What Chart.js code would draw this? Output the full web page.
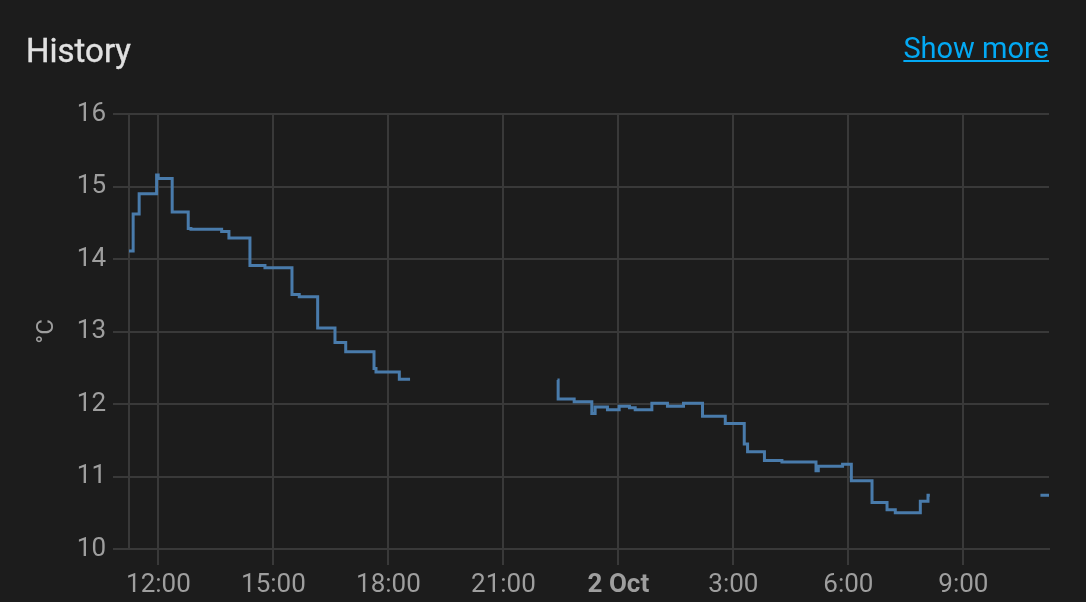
<!DOCTYPE html>
<html><head><meta charset="utf-8">
<script src="https://cdn.jsdelivr.net/npm/chart.js@4"></script>
<style>
html,body{margin:0;padding:0;background:#1c1c1c;}
#wrap{position:relative;width:1086px;height:602px;overflow:hidden;background:#1c1c1c;}
#title{position:absolute;left:26px;top:34px;font:400 33px/33px Roboto;color:#e1e1e1;white-space:nowrap;-webkit-text-stroke:0.4px #e1e1e1;}
#more{position:absolute;right:37px;top:34px;font:400 29px/29px Roboto;color:#03a9f4;text-decoration:underline;white-space:nowrap;}
#cv{position:absolute;left:0;top:0;}
</style></head><body>
<div id="wrap"><canvas id="cv" width="1086" height="602"></canvas><div id="title">History</div><div id="more">Show more</div></div>
<script>
// minutes since 1 Oct 00:00
const times = [674, 680.5, 689.9, 717.2, 719.7, 741.6, 766.7, 770.9, 819, 830.4, 863.3, 886.8, 929.1, 940.5, 969.3, 996.4, 1013.2, 1057.5, 1060.6, 1097.1, 1113.9, 1114.5,
  1344.6, 1345.7, 1370.8, 1398.4, 1403.6, 1422.9, 1441.2, 1457.3, 1466.3, 1492.4, 1516.8, 1541.9, 1571.7, 1607.3, 1637, 1642.2, 1668.6, 1696, 1749.3, 1752.9, 1790.9, 1804.6, 1837, 1860.5, 1873.4, 1912.6, 1924.6, 1927.5, 1928,
  2100.6, 2114];
const temps = [14.11, 14.62, 14.90, 15.16, 15.11, 14.65, 14.42, 14.41, 14.38, 14.29, 13.91, 13.88, 13.51, 13.48, 13.05, 12.85, 12.72, 12.49, 12.44, 12.34, 12.34, null,
  12.33, 12.07, 12.03, 11.87, 11.96, 11.92, 11.97, 11.95, 11.92, 12.01, 11.97, 12.01, 11.83, 11.73, 11.45, 11.34, 11.22, 11.20, 11.08, 11.14, 11.17, 10.94, 10.64, 10.54, 10.50, 10.66, 10.74, 10.74, null,
  10.74, 10.74];
const tickValues = [720, 900, 1080, 1260, 1440, 1620, 1800, 1980];
const tickLabels = ['12:00', '15:00', '18:00', '21:00', '2 Oct', '3:00', '6:00', '9:00'];
const yTicks = [10, 11, 12, 13, 14, 15, 16];

const points = times.map((t, i) => ({x: t, y: temps[i]}));
const GRID = '#393939';
const TXT = '#9e9e9e';

new Chart(document.getElementById('cv'), {
  type: 'line',
  data: { datasets: [{
    data: points,
    borderColor: '#497bab',
    borderWidth: 3,
    pointRadius: 0,
    stepped: 'before',
    spanGaps: false,
    fill: false,
    tension: 0,
    borderJoinStyle: 'miter',
    borderCapStyle: 'butt'
  }]},
  options: {
    responsive: false,
    animation: false,
    devicePixelRatio: 1,
    layout: { padding: { left: 33, top: 114, right: 37, bottom: 0 } },
    plugins: { legend: { display: false }, tooltip: { enabled: false } },
    scales: {
      x: {
        type: 'linear', min: 674, max: 2114,
        afterBuildTicks: s => { s.ticks = tickValues.map(v => ({ value: v })); },
        afterFit: s => { s.height = 53; },
        ticks: {
          autoSkip: false, maxRotation: 0, padding: 5, color: TXT,
          font: ctx => ({ family: 'Roboto', size: 26, weight: (ctx.tick && ctx.tick.value === 1440) ? 'bold' : 'normal' }),
          callback: v => tickLabels[tickValues.indexOf(v)]
        },
        grid: { color: GRID, lineWidth: 2, tickLength: 16 },
        border: { display: true, color: GRID, width: 2 }
      },
      y: {
        min: 10, max: 16,
        afterBuildTicks: s => { s.ticks = yTicks.map(v => ({ value: v })); },
        afterFit: s => { s.width = 96; },
        ticks: { padding: 7, color: TXT, font: { family: 'Roboto', size: 26 } },
        grid: { color: GRID, lineWidth: 2, tickLength: 16 },
        border: { display: true, color: GRID, width: 2 },
        title: { display: true, text: '°C', color: TXT, font: { family: 'Roboto', size: 24 }, padding: { top: 0, bottom: 0 } }
      }
    }
  }
});
</script>
</body></html>
